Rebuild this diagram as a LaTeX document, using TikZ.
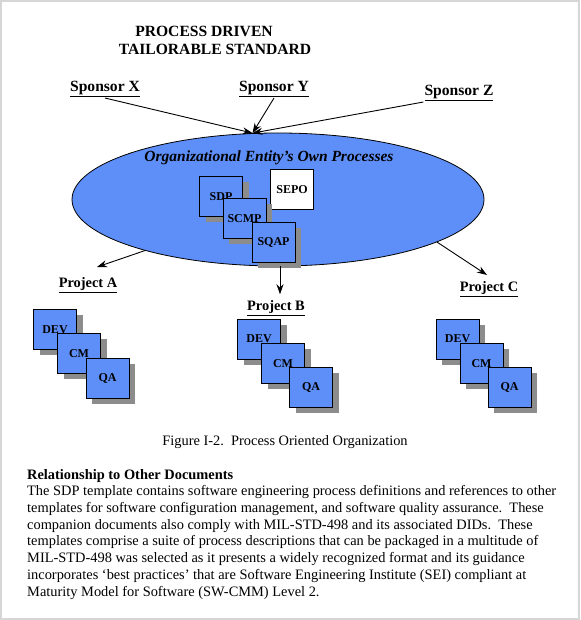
\documentclass[tikz,border=0pt]{standalone}
\usepackage{fontspec}
\setmainfont{Liberation Serif}
\usepackage{tikz}
\usetikzlibrary{arrows.meta, positioning, shapes.geometric, shadows}
\definecolor{colorProcess}{RGB}{94,142,247}
\definecolor{colorShadow}{RGB}{140,140,140}
\definecolor{colorFrame}{RGB}{214,214,214}
\tikzset{
  box/.style={draw=black, line width=1pt, fill=colorProcess, minimum width=43pt, minimum height=40pt, inner sep=0pt, font=\fontsize{12}{14}\selectfont\bfseries},
  doc/.style={box, drop shadow={shadow xshift=6pt, shadow yshift=-5.5pt, fill=colorShadow, opacity=1}},
  bigtxt/.style={font=\fontsize{14.4}{16.7}\selectfont\bfseries, inner sep=1pt},
  headtxt/.style={font=\fontsize{15.6}{18}\selectfont\bfseries, inner sep=1pt},
  arr/.style={->, line width=0.9pt}
}

\begin{document}
\begin{tikzpicture}[x=1pt, y=-1pt, >={Stealth[length=10pt,width=7pt]}]
\useasboundingbox (0,0) rectangle (580,620);
\draw[colorFrame, line width=2pt] (1,1) rectangle (579,619);
\node[headtxt] (title1) at (204,31) {PROCESS DRIVEN};
\node[headtxt] (title2) at (215,49) {TAILORABLE STANDARD};
\node[headtxt] (spX) at (105,89) {\underline{Sponsor X}};
\node[headtxt] (spY) at (274,89) {\underline{Sponsor Y}};
\node[headtxt] (spZ) at (459,93) {\underline{Sponsor Z}};
\node[ellipse, draw, line width=0.8pt, fill=colorProcess, minimum width=412pt, minimum height=133pt, inner sep=0pt] (org) at (278,199.5) {};
\node[headtxt, font=\fontsize{15.5}{18}\selectfont\bfseries\itshape] (orgTxt) at (269,158) {Organizational Entity's Own Processes};
\node[doc] (sdp) at (221,196.5) {SDP};
\node[box, fill=white] (sepo) at (292,190) {SEPO};
\node[doc] (scmp) at (244.5,218.5) {SCMP};
\node[doc] (sqap) at (273.5,242.5) {SQAP};
\draw[arr] (spX.south) -- (org.111);
\draw[arr] (spY.south) -- (org.111);
\draw[arr] (spZ.south west) -- (org.111);
\node[bigtxt] (prjA) at (88,285) {\underline{Project A}};
\node[bigtxt] (prjB) at (276,308) {\underline{Project B}};
\node[bigtxt] (prjC) at (489,289) {\underline{Project C}};
\coordinate (tipA) at (97,267);
\coordinate (tipC) at (487,275);
\draw[arr] (org.201) -- (tipA);
\draw[arr, shorten >=5pt] ([xshift=2pt]org.south) -- ([xshift=2pt]org.south |- prjB.north);
\draw[arr] (org.345) -- (tipC);
\node[doc] (devA) at (55,329.5) {DEV};
\node[doc] (cmA) at (79,353.5) {CM};
\node[doc] (qaA) at (107.5,378) {QA};
\node[doc] (devB) at (259,339) {DEV};
\node[doc] (cmB) at (283,363.5) {CM};
\node[doc] (qaB) at (311,387.5) {QA};
\node[doc] (devC) at (457.5,339) {DEV};
\node[doc] (cmC) at (481.5,363.5) {CM};
\node[doc] (qaC) at (509.5,387.5) {QA};
\node[font=\fontsize{14.4}{16.7}\selectfont] (figCap) at (285,442) {Figure I-2.\ \ Process Oriented Organization};
\node[anchor=north west, align=left, inner sep=0pt, font=\fontsize{14.4}{16.7}\selectfont] (relTxt) at (27,469) {\textbf{Relationship to Other Documents}\\
The SDP template contains software engineering process definitions and references to other\\
templates for software configuration management, and software quality assurance.\ \ These\\
companion documents also comply with MIL-STD-498 and its associated DIDs.\ \ These\\
templates comprise a suite of process descriptions that can be packaged in a multitude of\\
MIL-STD-498 was selected as it presents a widely recognized format and its guidance\\
incorporates `best practices' that are Software Engineering Institute (SEI) compliant at\\
Maturity Model for Software (SW-CMM) Level 2.};
\end{tikzpicture}
\end{document}
